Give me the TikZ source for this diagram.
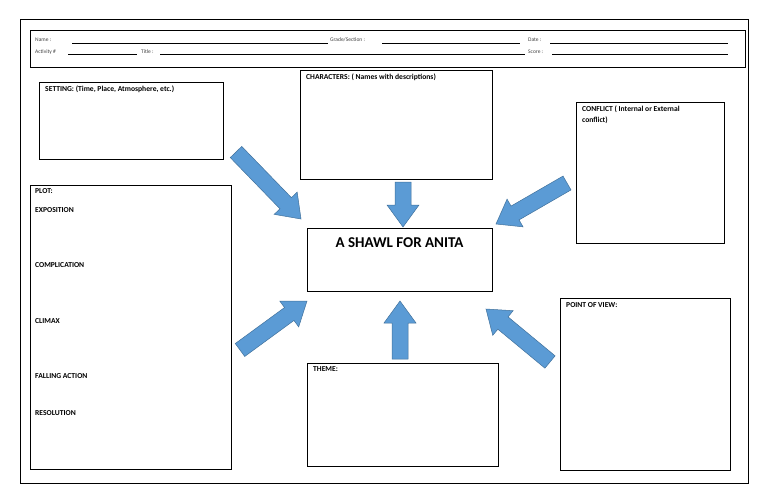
\documentclass[tikz,border=0pt]{standalone}
\usepackage{fontspec}
\setmainfont{Carlito}
\usetikzlibrary{calc}
\definecolor{af}{HTML}{5B9BD5}
\definecolor{ae}{HTML}{41719C}
\tikzset{box/.style={draw,line width=0.8pt},
lab/.style={anchor=north west,font=\bfseries\fontsize{7.6}{11}\selectfont,align=left,inner sep=0},
hd/.style={anchor=base west,font=\fontsize{5.5}{6}\selectfont,inner sep=0,text=black!75},
ul/.style={line width=0.4pt}}
\newcommand\blockarrow[2]{%
 \coordinate (h) at ($(#2)!22pt!(#1)$);
 \filldraw[fill=af,draw=ae,line width=0.5pt] ($(#1)!8pt!-90:(#2)$) -- ($(h)!8pt!-90:(#2)$) -- ($(h)!16pt!-90:(#2)$) -- (#2) -- ($(h)!16pt!90:(#2)$) -- ($(h)!8pt!90:(#2)$) -- ($(#1)!8pt!90:(#2)$) -- cycle;}
\begin{document}
\begin{tikzpicture}[x=1pt,y=-1pt]
\useasboundingbox (0,0) rectangle (768,503);
\draw[line width=1pt] (20,20) rectangle (748,483);
\draw[box] (30,30) rectangle (745,67);
\node[hd] (n1) at (35,42) {Name :};
\draw[ul] (72,43) -- (328,43);
\node[hd] (n2) at (330,42) {Grade/Section :};
\draw[ul] (382,43) -- (520,43);
\node[hd] (n3) at (528,42) {Date :};
\draw[ul] (550,43) -- (728,43);
\node[hd] (n4) at (35,53) {Activity \#};
\draw[ul] (68,54) -- (137,54);
\node[hd] (n5) at (141,53) {Title :};
\draw[ul] (160,54) -- (525,54);
\node[hd] (n6) at (528,53) {Score :};
\draw[ul] (552,54) -- (728,54);
\draw[box] (39,82) rectangle (223,159);
\node[lab] (ls) at (45,86) {SETTING: (Time, Place, Atmosphere, etc.)};
\draw[box] (300,70) rectangle (492,179);
\node[lab] (lc) at (306,74) {CHARACTERS: ( Names with descriptions)};
\draw[box] (576,102) rectangle (724,243);
\node[lab] (lf) at (582,106) {CONFLICT ( Internal or External\\conflict)};
\draw[box] (30,185) rectangle (231,469);
\node[lab] (lp) at (35,188) {PLOT:};
\node[lab] (p1) at (35,207) {EXPOSITION};
\node[lab] (p2) at (35,262) {COMPLICATION};
\node[lab] (p3) at (35,318) {CLIMAX};
\node[lab] (p4) at (35,373) {FALLING ACTION};
\node[lab] (p5) at (35,410) {RESOLUTION};
\draw[box] (307,228) rectangle (492,291);
\node[font=\bfseries\fontsize{15}{17}\selectfont] (t) at (399.5,243) {A SHAWL FOR ANITA};
\draw[box] (307,363) rectangle (498,466);
\node[lab] (lt) at (313,366) {THEME:};
\draw[box] (560,298) rectangle (730,470);
\node[lab] (lv) at (566,302) {POINT OF VIEW:};
\coordinate (a1) at (236,152); \coordinate (b1) at (301,219);
\coordinate (a2) at (403,182); \coordinate (b2) at (403,227);
\coordinate (a3) at (567,183); \coordinate (b3) at (496,224);
\coordinate (a4) at (240,350); \coordinate (b4) at (307,301);
\coordinate (a5) at (400,359); \coordinate (b5) at (400,301);
\coordinate (a6) at (550,362); \coordinate (b6) at (486,309);
\blockarrow{a1}{b1}\blockarrow{a2}{b2}\blockarrow{a3}{b3}
\blockarrow{a4}{b4}\blockarrow{a5}{b5}\blockarrow{a6}{b6}
\end{tikzpicture}
\end{document}
